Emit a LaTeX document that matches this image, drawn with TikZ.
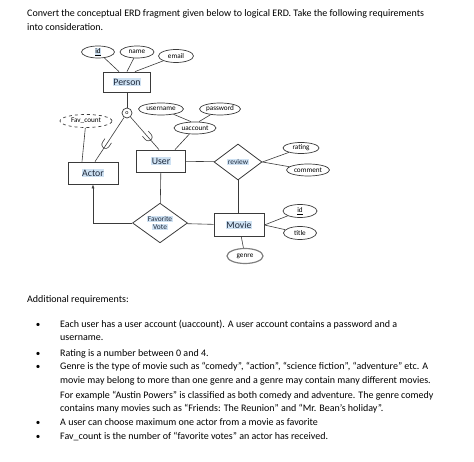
\documentclass[tikz,border=0pt]{standalone}
\usepackage{fontspec}
\setmainfont{Carlito}
\usepackage{xcolor}
\usetikzlibrary{arrows.meta,positioning,calc,shapes.geometric}
\definecolor{erhl}{HTML}{CFE2F3}
\definecolor{erink}{HTML}{1F2A3C}
\definecolor{erline}{HTML}{3A3A3A}
\newcommand{\erhl}[1]{{\setlength{\fboxsep}{0.6pt}\colorbox{erhl}{#1}}}

\begin{document}
\begin{tikzpicture}[x=1pt,y=-1pt,
  txt/.style={anchor=base west,inner sep=0pt,font=\fontsize{10}{12}\selectfont},
  bul/.style={anchor=base,inner sep=0pt,font=\fontsize{9}{11}\selectfont},
  entity/.style={draw=erline,line width=0.8pt,rectangle,inner sep=0pt,
    minimum width=49pt,minimum height=22pt,text=erink,font=\fontsize{9.8}{10}\selectfont},
  attr/.style={draw=erline,line width=0.7pt,ellipse,inner sep=0pt,
    minimum width=34pt,minimum height=12pt,font=\fontsize{7.2}{8}\selectfont},
  rel/.style={draw=erline,line width=0.8pt,diamond,inner sep=0pt,align=center,
    text=erink,font=\fontsize{7.4}{8}\selectfont},
  link/.style={draw=erline,line width=0.6pt},
  subsetmark/.style={sloped,inner sep=0pt,font=\Large}]
\useasboundingbox (0,0) rectangle (474,462);

% question text
\node[txt] (q1) at (27,17) {Convert the conceptual ERD fragment given below to logical ERD. Take the following requirements};
\node[txt] (q2) at (27,31) {into consideration.};

% Person and its attributes
\node[entity,minimum width=47pt,minimum height=20pt] (person) at (127,82) {\erhl{Person}};
\node[attr,minimum width=33pt] (pid) at (98,52) {\erhl{\underline{id}}};
\node[attr,minimum width=34pt] (pname) at (137,52) {name};
\node[attr,minimum width=35pt,minimum height=13pt] (pemail) at (176,56) {email};
\draw[link] (pid) -- ([xshift=-8pt]person.north);
\draw[link] (pname) -- (person.north);
\draw[link] (pemail) -- ([xshift=8pt]person.north);

% specialisation circle
\node[draw=erline,line width=0.7pt,circle,minimum size=10pt,inner sep=0pt,
      font=\fontsize{6}{6}\selectfont] (isa) at (127,113) {o};
\draw[link] (person) -- (isa);

% Actor and User
\node[entity,minimum width=50pt] (actor) at (93,173) {\erhl{Actor}};
\node[entity] (user) at (161,161) {\erhl{User}};
\draw[link] (isa) -- node[subsetmark,pos=0.62]{$\subset$} ([xshift=2pt]actor.north);
\draw[link] (isa) -- node[subsetmark,pos=0.62]{$\supset$} ([xshift=-2pt]user.north);

\node[attr,dashed,minimum width=52pt,minimum height=13pt] (favcnt) at (86,121) {Fav\_count};
\draw[link] (favcnt) -- ([xshift=-11pt]actor.north);

% user account
\node[attr,minimum width=45pt,minimum height=12pt] (uname) at (161,109) {username};
\node[attr,minimum width=41pt] (upass) at (220,109) {password};
\node[attr,minimum width=42pt] (uacc) at (195,128) {uaccount};
\draw[link] (uname) -- ([xshift=-4pt]uacc.north);
\draw[link] (upass) -- ([xshift=4pt]uacc.north);
\draw[link] (uacc) -- ([xshift=14pt]user.north);

% review
\node[rel,minimum width=48pt,minimum height=36pt] (review) at (238,162) {\erhl{review}};
\node[attr,minimum width=36pt,minimum height=11pt] (rating) at (301,148) {rating};
\node[attr,minimum width=43pt] (comment) at (308,170) {comment};
\draw[link] (user) -- (review);
\draw[link] (review.east) -- (rating);
\draw[link] (review.east) -- (comment);

% Movie
\node[entity,minimum width=50pt,minimum height=23pt] (movie) at (239,225) {\erhl{Movie}};
\node[attr,minimum width=34pt,minimum height=13pt] (mid) at (300,211) {\underline{id}};
\node[attr,minimum width=33pt,minimum height=13pt] (mtitle) at (300,233) {title};
\node[attr,draw=gray,line width=1.2pt,minimum width=36pt,minimum height=15pt] (genre) at (245,256) {genre};
\draw[link] (review) -- (review |- movie.north);
\draw[link] (movie.east) -- (mid);
\draw[link] (movie.east) -- (mtitle);
\draw[link] (movie) -- (genre);

% favorite vote
\node[rel,minimum width=55pt,minimum height=32pt] (favvote) at (160,223) {\erhl{Favorite}\\\erhl{Vote}};
\draw[link] (user) -- (favvote);
\draw[link] (favvote) -- (movie);
\draw[link,-{Latex[length=4pt,width=3pt]}] (favvote.west) -| (actor.south);

% requirements
\node[txt] (req) at (27,303) {Additional requirements:};
\node[bul] (b1) at (38,327) {•};
\node[txt] (r1a) at (60,327) {Each user has a user account (uaccount). A user account contains a password and a};
\node[txt] (r1b) at (60,341) {username.};
\node[bul] (b2) at (38,356) {•};
\node[txt] (r2) at (60,356) {Rating is a number between 0 and 4.};
\node[bul] (b3) at (38,370) {•};
\node[txt] (r3a) at (60,370) {Genre is the type of movie such as “comedy”, “action”, “science fiction”, “adventure” etc. A};
\node[txt] (r3b) at (60,384) {movie may belong to more than one genre and a genre may contain many different movies.};
\node[txt] (r3c) at (60,398) {For example “Austin Powers” is classified as both comedy and adventure. The genre comedy};
\node[txt] (r3d) at (60,411) {contains many movies such as “Friends: The Reunion” and “Mr. Bean’s holiday”.};
\node[bul] (b4) at (38,425) {•};
\node[txt] (r4) at (60,425) {A user can choose maximum one actor from a movie as favorite};
\node[bul] (b5) at (38,439) {•};
\node[txt] (r5) at (60,439) {Fav\_count is the number of “favorite votes” an actor has received.};
\end{tikzpicture}
\end{document}
